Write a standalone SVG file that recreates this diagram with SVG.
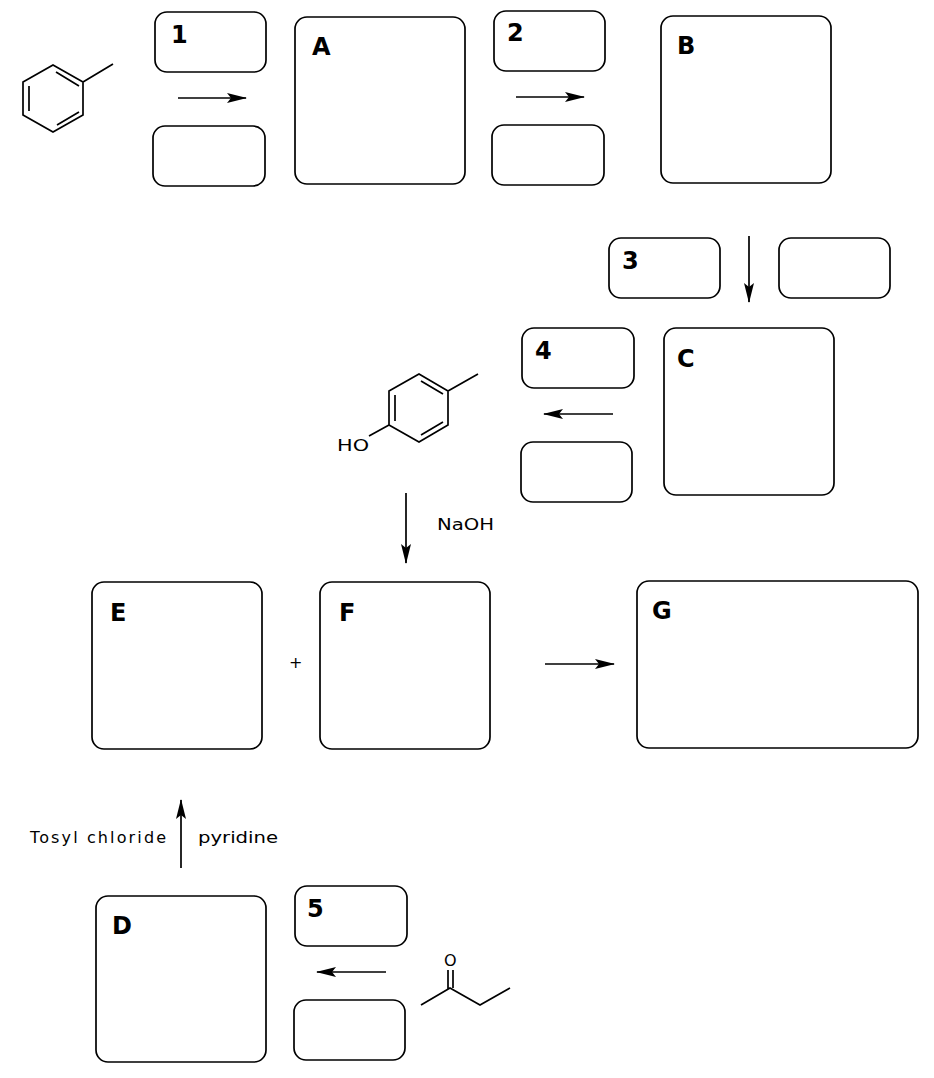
<svg xmlns="http://www.w3.org/2000/svg" width="934" height="1078" viewBox="0 0 934 1078">
<style>
.b{fill:none;stroke:#000;stroke-width:1.7}
.l{font-family:"DejaVu Sans",sans-serif;font-weight:bold;font-size:24px}
.t{font-family:"DejaVu Sans",sans-serif;font-size:16px}
.m{fill:none;stroke:#000;stroke-width:1.7}
</style>
<defs><marker id="ah" markerWidth="20" markerHeight="10" refX="19" refY="5" orient="auto" markerUnits="userSpaceOnUse"><path d="M0,0 L20,5 L0,10 L4,5 Z" fill="#000"/></marker></defs>
<rect width="934" height="1078" fill="#fff"/>
<g id="toluene" class="m"><path d="M53,65 L83,82 L83,115 L53,132 L23,115 L23,82 Z M83,82 L113,64 M29,86 L29,111 M56,72 L79,86 M57,125 L79,112"/></g>
<g id="cresol"><path class="m" d="M419,374 L448,391 L448,425 L419,442 L389,425 L389,391 Z M448,391 L478,374 M389,425 L369,436 M395,395 L395,421 M421,381 L443,394 M421,435 L443,422"/><text class="t" x="337" y="451" textLength="32" lengthAdjust="spacingAndGlyphs">HO</text></g>
<g id="butanone"><path class="m" d="M421,1005 L450,988 L480,1005 L510,988 M448,970 L448,989 M453,970 L453,988"/><text class="t" x="444" y="966">O</text></g>
<g id="n1"><rect class="b" x="155" y="12" width="111" height="60" rx="12"/><text class="l" x="171" y="43">1</text></g>
<g id="n1b"><rect class="b" x="153" y="126" width="112" height="60" rx="12"/></g>
<g id="nA"><rect class="b" x="295" y="17" width="170" height="167" rx="12"/><text class="l" x="312" y="55">A</text></g>
<g id="n2"><rect class="b" x="494" y="11" width="111" height="60" rx="12"/><text class="l" x="507" y="41">2</text></g>
<g id="n2b"><rect class="b" x="492" y="125" width="112" height="60" rx="12"/></g>
<g id="nB"><rect class="b" x="661" y="16" width="170" height="167" rx="12"/><text class="l" x="677" y="54">B</text></g>
<g id="n3"><rect class="b" x="609" y="238" width="111" height="60" rx="12"/><text class="l" x="622" y="269">3</text></g>
<g id="n3b"><rect class="b" x="779" y="238" width="111" height="60" rx="12"/></g>
<g id="n4"><rect class="b" x="522" y="328" width="112" height="60" rx="12"/><text class="l" x="535" y="359">4</text></g>
<g id="n4b"><rect class="b" x="521" y="442" width="111" height="60" rx="12"/></g>
<g id="nC"><rect class="b" x="664" y="328" width="170" height="167" rx="12"/><text class="l" x="677" y="367">C</text></g>
<g id="nE"><rect class="b" x="92" y="582" width="170" height="167" rx="12"/><text class="l" x="110" y="621">E</text></g>
<g id="plus"><text class="t" x="289" y="668">+</text></g>
<g id="nF"><rect class="b" x="320" y="582" width="170" height="167" rx="12"/><text class="l" x="339" y="621">F</text></g>
<g id="nG"><rect class="b" x="637" y="581" width="281" height="167" rx="12"/><text class="l" x="652" y="619">G</text></g>
<g id="nD"><rect class="b" x="96" y="896" width="170" height="166" rx="12"/><text class="l" x="112" y="934">D</text></g>
<g id="n5"><rect class="b" x="295" y="886" width="112" height="60" rx="12"/><text class="l" x="307" y="917">5</text></g>
<g id="n5b"><rect class="b" x="294" y="1000" width="111" height="60" rx="12"/></g>
<g id="connectors" class="m">
<line x1="178" y1="98" x2="246" y2="98" marker-end="url(#ah)"/>
<line x1="516" y1="97" x2="584" y2="97" marker-end="url(#ah)"/>
<line x1="749" y1="236" x2="749" y2="302" marker-end="url(#ah)"/>
<line x1="613" y1="414" x2="544" y2="414" marker-end="url(#ah)"/>
<line x1="406" y1="493" x2="406" y2="563" marker-end="url(#ah)"/>
<line x1="545" y1="664" x2="614" y2="664" marker-end="url(#ah)"/>
<line x1="181" y1="868" x2="181" y2="800" marker-end="url(#ah)"/>
<line x1="386" y1="972" x2="317" y2="972" marker-end="url(#ah)"/>
</g>
<text class="t" x="437" y="530" textLength="57" lengthAdjust="spacingAndGlyphs">NaOH</text>
<text class="t" x="30" y="843" textLength="136" lengthAdjust="spacing">Tosyl  chloride</text>
<text class="t" x="198" y="843" textLength="80" lengthAdjust="spacingAndGlyphs">pyridine</text>
</svg>
